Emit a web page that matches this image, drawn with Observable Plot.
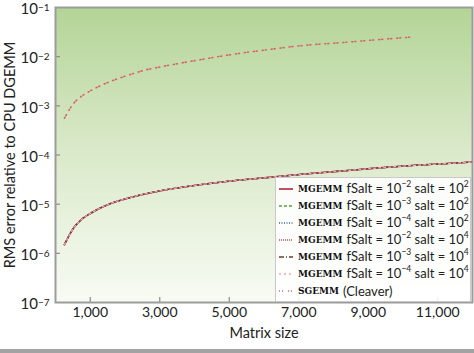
<!DOCTYPE html>
<html><head><meta charset="utf-8">
<script src="https://cdn.jsdelivr.net/npm/d3@7"></script>
<script src="https://cdn.jsdelivr.net/npm/@observablehq/plot@0.6"></script>
<style>
body{margin:0;background:#fff;}
#wrap{position:relative;width:474px;height:353px;font-family:Lato,"Open Sans",sans-serif;overflow:hidden}
#bar{position:absolute;left:0;top:349px;width:474px;height:4px;background:#a3a3a3;}
#legend{position:absolute;left:275px;top:177px;width:196px;height:125px;background:rgba(255,255,255,0.88);border:1px solid #c9c9c9;box-sizing:border-box;}
.row{position:absolute;left:3px;height:17px;display:flex;align-items:center;font-size:13px;color:#222;white-space:nowrap;font-family:Lato,sans-serif}
.row svg{margin-right:5px}
.mg{font-family:"DejaVu Serif Condensed","DejaVu Serif",serif;font-weight:bold;font-size:10px;margin-right:4px;color:#111}
.row sup{font-size:8.5px;position:relative;top:-1px}
</style>
</head><body>
<div id="wrap"><div id="bar"></div></div>
<script>
// ---- data ----
const sizes = [256, 512, 768, 1024, 1536, 2048, 3072, 4096, 5120, 6144, 7168, 8192, 9216, 10240, 11264, 12000];
const mgF2S2 = [1.5e-6, 3.2e-6, 5.0e-6, 6.6e-6, 1.0e-5, 1.3e-5, 1.9e-5, 2.45e-5, 3.0e-5, 3.5e-5, 4.1e-5, 4.7e-5, 5.4e-5, 6.1e-5, 6.7e-5, 7.2e-5];
const mgF3S2 = [1.5e-6, 3.2e-6, 5.0e-6, 6.6e-6, 1.0e-5, 1.3e-5, 1.9e-5, 2.45e-5, 3.0e-5, 3.5e-5, 4.1e-5, 4.7e-5, 5.4e-5, 6.1e-5, 6.7e-5, 7.2e-5];
const mgF4S2 = [1.5e-6, 3.2e-6, 5.0e-6, 6.6e-6, 1.0e-5, 1.3e-5, 1.9e-5, 2.45e-5, 3.0e-5, 3.5e-5, 4.1e-5, 4.7e-5, 5.4e-5, 6.1e-5, 6.7e-5, 7.2e-5];
const mgF2S4 = [1.5e-6, 3.2e-6, 5.0e-6, 6.6e-6, 1.0e-5, 1.3e-5, 1.9e-5, 2.45e-5, 3.0e-5, 3.5e-5, 4.1e-5, 4.7e-5, 5.4e-5, 6.1e-5, 6.7e-5, 7.2e-5];
const mgF3S4 = [1.5e-6, 3.2e-6, 5.0e-6, 6.6e-6, 1.0e-5, 1.3e-5, 1.9e-5, 2.45e-5, 3.0e-5, 3.5e-5, 4.1e-5, 4.7e-5, 5.4e-5, 6.1e-5, 6.7e-5, 7.2e-5];
const mgF4S4 = [1.5e-6, 3.2e-6, 5.0e-6, 6.6e-6, 1.0e-5, 1.3e-5, 1.9e-5, 2.45e-5, 3.0e-5, 3.5e-5, 4.1e-5, 4.7e-5, 5.4e-5, 6.1e-5, 6.7e-5, 7.2e-5];
const sgemmSizes = [256, 512, 768, 1024, 1280, 1536, 2048, 2560, 3072, 4096, 5120, 6144, 7168, 8192, 9216, 10240];
const sgemm = [5.6e-4, 1.1e-3, 1.6e-3, 2.05e-3, 2.55e-3, 3.05e-3, 4.1e-3, 5.3e-3, 6.3e-3, 8.5e-3, 1.12e-2, 1.4e-2, 1.7e-2, 1.92e-2, 2.2e-2, 2.5e-2];
const xTicks = [1000, 3000, 5000, 7000, 9000, 11000];
const yTicks = [1e-7, 1e-6, 1e-5, 1e-4, 1e-3, 1e-2, 1e-1];
const seriesNames = [
  ["-2", "2"], ["-3", "2"], ["-4", "2"], ["-2", "4"], ["-3", "4"], ["-4", "4"]
];
const sgemmName = "SGEMM (Cleaver)";

// ---- styles ----
const mgStyles = [
  {stroke: "#b3243c", dash: null, w: 1.6},
  {stroke: "#5d9b3f", dash: "3,2", w: 1.3},
  {stroke: "#3a62a8", dash: "1,1.5", w: 1.3},
  {stroke: "#c8506a", dash: "1,1", w: 1.2},
  {stroke: "#6b3c2c", dash: "5,2,1,2", w: 1.3},
  {stroke: "#f2a5b5", dash: "2,3", w: 1.3}
];
const sgStyle = {stroke: "#d8606a", dash: "1,2,1,5", w: 1.6};
const mgData = [mgF2S2, mgF3S2, mgF4S2, mgF2S4, mgF3S4, mgF4S4];

const W = 474, H = 349, mL = 55, mR = 2, mT = 7, mB = 47;
const frameW = W - mL - mR, frameH = H - mT - mB;

const marks = [Plot.frame({fill: "url(#bgGrad)"})];
mgData.forEach((vals, i) => {
  const st = mgStyles[i];
  marks.push(Plot.line(sizes.map((s, j) => ({x: s, y: vals[j]})), {
    x: "x", y: "y", stroke: st.stroke, strokeWidth: st.w,
    strokeDasharray: st.dash, curve: "monotone-x"
  }));
});
marks.push(Plot.line(sgemmSizes.map((s, j) => ({x: s, y: sgemm[j]})), {
  x: "x", y: "y", stroke: sgStyle.stroke, strokeWidth: sgStyle.w,
  strokeDasharray: sgStyle.dash, curve: "monotone-x"
}));
marks.push(Plot.tickY(yTicks.slice(1, -1), {y: d => d, stroke: "#8a8a8a", strokeWidth: 1.2, insetRight: frameW - 5}));
marks.push(Plot.tickX(xTicks, {x: d => d, stroke: "#8a8a8a", strokeWidth: 1.2, insetTop: frameH - 5}));
marks.push(Plot.frame({stroke: "#9c9c9c", strokeWidth: 2}));
marks.push(Plot.axisY(yTicks, {
  tickFormat: d => "10^" + Math.round(Math.log10(d)), tickSize: 0, tickPadding: 6,
  fontSize: 15, label: null, dy: 2
}));
marks.push(Plot.text(["RMS error relative to CPU DGEMM"], {
  text: d => d, frameAnchor: "left", textAnchor: "middle", dx: -45, rotate: -90, fontSize: 14.5, fill: "#222"
}));
marks.push(Plot.axisX(xTicks, {
  tickFormat: d3.format(","), tickSize: 0, tickPadding: 5, fontSize: 14,
  label: null
}));
marks.push(Plot.text(["Matrix size"], {
  text: d => d, frameAnchor: "bottom", dy: 35, fontSize: 14.5, fill: "#222"
}));

const svg = Plot.plot({
  width: W, height: H,
  marginLeft: mL, marginRight: mR, marginTop: mT, marginBottom: mB,
  style: {fontFamily: "Lato, 'Open Sans', sans-serif", color: "#222", background: "transparent", overflow: "visible"},
  x: {domain: [0, 12000]},
  y: {type: "log", domain: [1e-7, 1e-1]},
  marks
});

// gradient background
const ns = "http://www.w3.org/2000/svg";
const defs = document.createElementNS(ns, "defs");
defs.innerHTML = `<linearGradient id="bgGrad" x1="0" y1="0" x2="0" y2="1">
  <stop offset="0" stop-color="#b3d497"/>
  <stop offset="0.45" stop-color="#d8e8c6"/>
  <stop offset="1" stop-color="#f8fbf4"/>
</linearGradient>`;
svg.insertBefore(defs, svg.firstChild);

// superscripts for y tick labels
svg.querySelectorAll("text").forEach(t => {
  const s = t.textContent;
  if (s.startsWith("10^")) {
    const e = s.slice(3).replace("-", "\u2212");
    t.textContent = "";
    const a = document.createElementNS(ns, "tspan");
    a.textContent = "10";
    const b = document.createElementNS(ns, "tspan");
    b.textContent = e;
    b.setAttribute("dy", "-0.33em");
    b.setAttribute("font-size", "10");
    t.appendChild(a); t.appendChild(b);
  }
});

const wrap = document.getElementById("wrap");
wrap.insertBefore(svg, wrap.firstChild);

// legend
const legend = document.createElement("div");
legend.id = "legend";
function sample(st) {
  return `<svg width="14" height="6"><line x1="0" x2="14" y1="3" y2="3" stroke="${st.stroke}" stroke-width="${Math.max(st.w, 1.5)}" ${st.dash ? `stroke-dasharray="${st.dash}"` : ""}/></svg>`;
}
let html = "";
seriesNames.forEach((n, i) => {
  html += `<div class="row" style="top:${2 + i * 17}px">${sample(mgStyles[i])}<span class="mg">MGEMM</span><span>fSalt = 10<sup>\u2212${n[0].slice(1)}</sup> salt = 10<sup>${n[1]}</sup></span></div>`;
});
html += `<div class="row" style="top:${2 + 6 * 17}px">${sample(sgStyle)}<span class="mg">SGEMM</span><span>(Cleaver)</span></div>`;
legend.innerHTML = html;
wrap.appendChild(legend);
</script>
</body></html>
